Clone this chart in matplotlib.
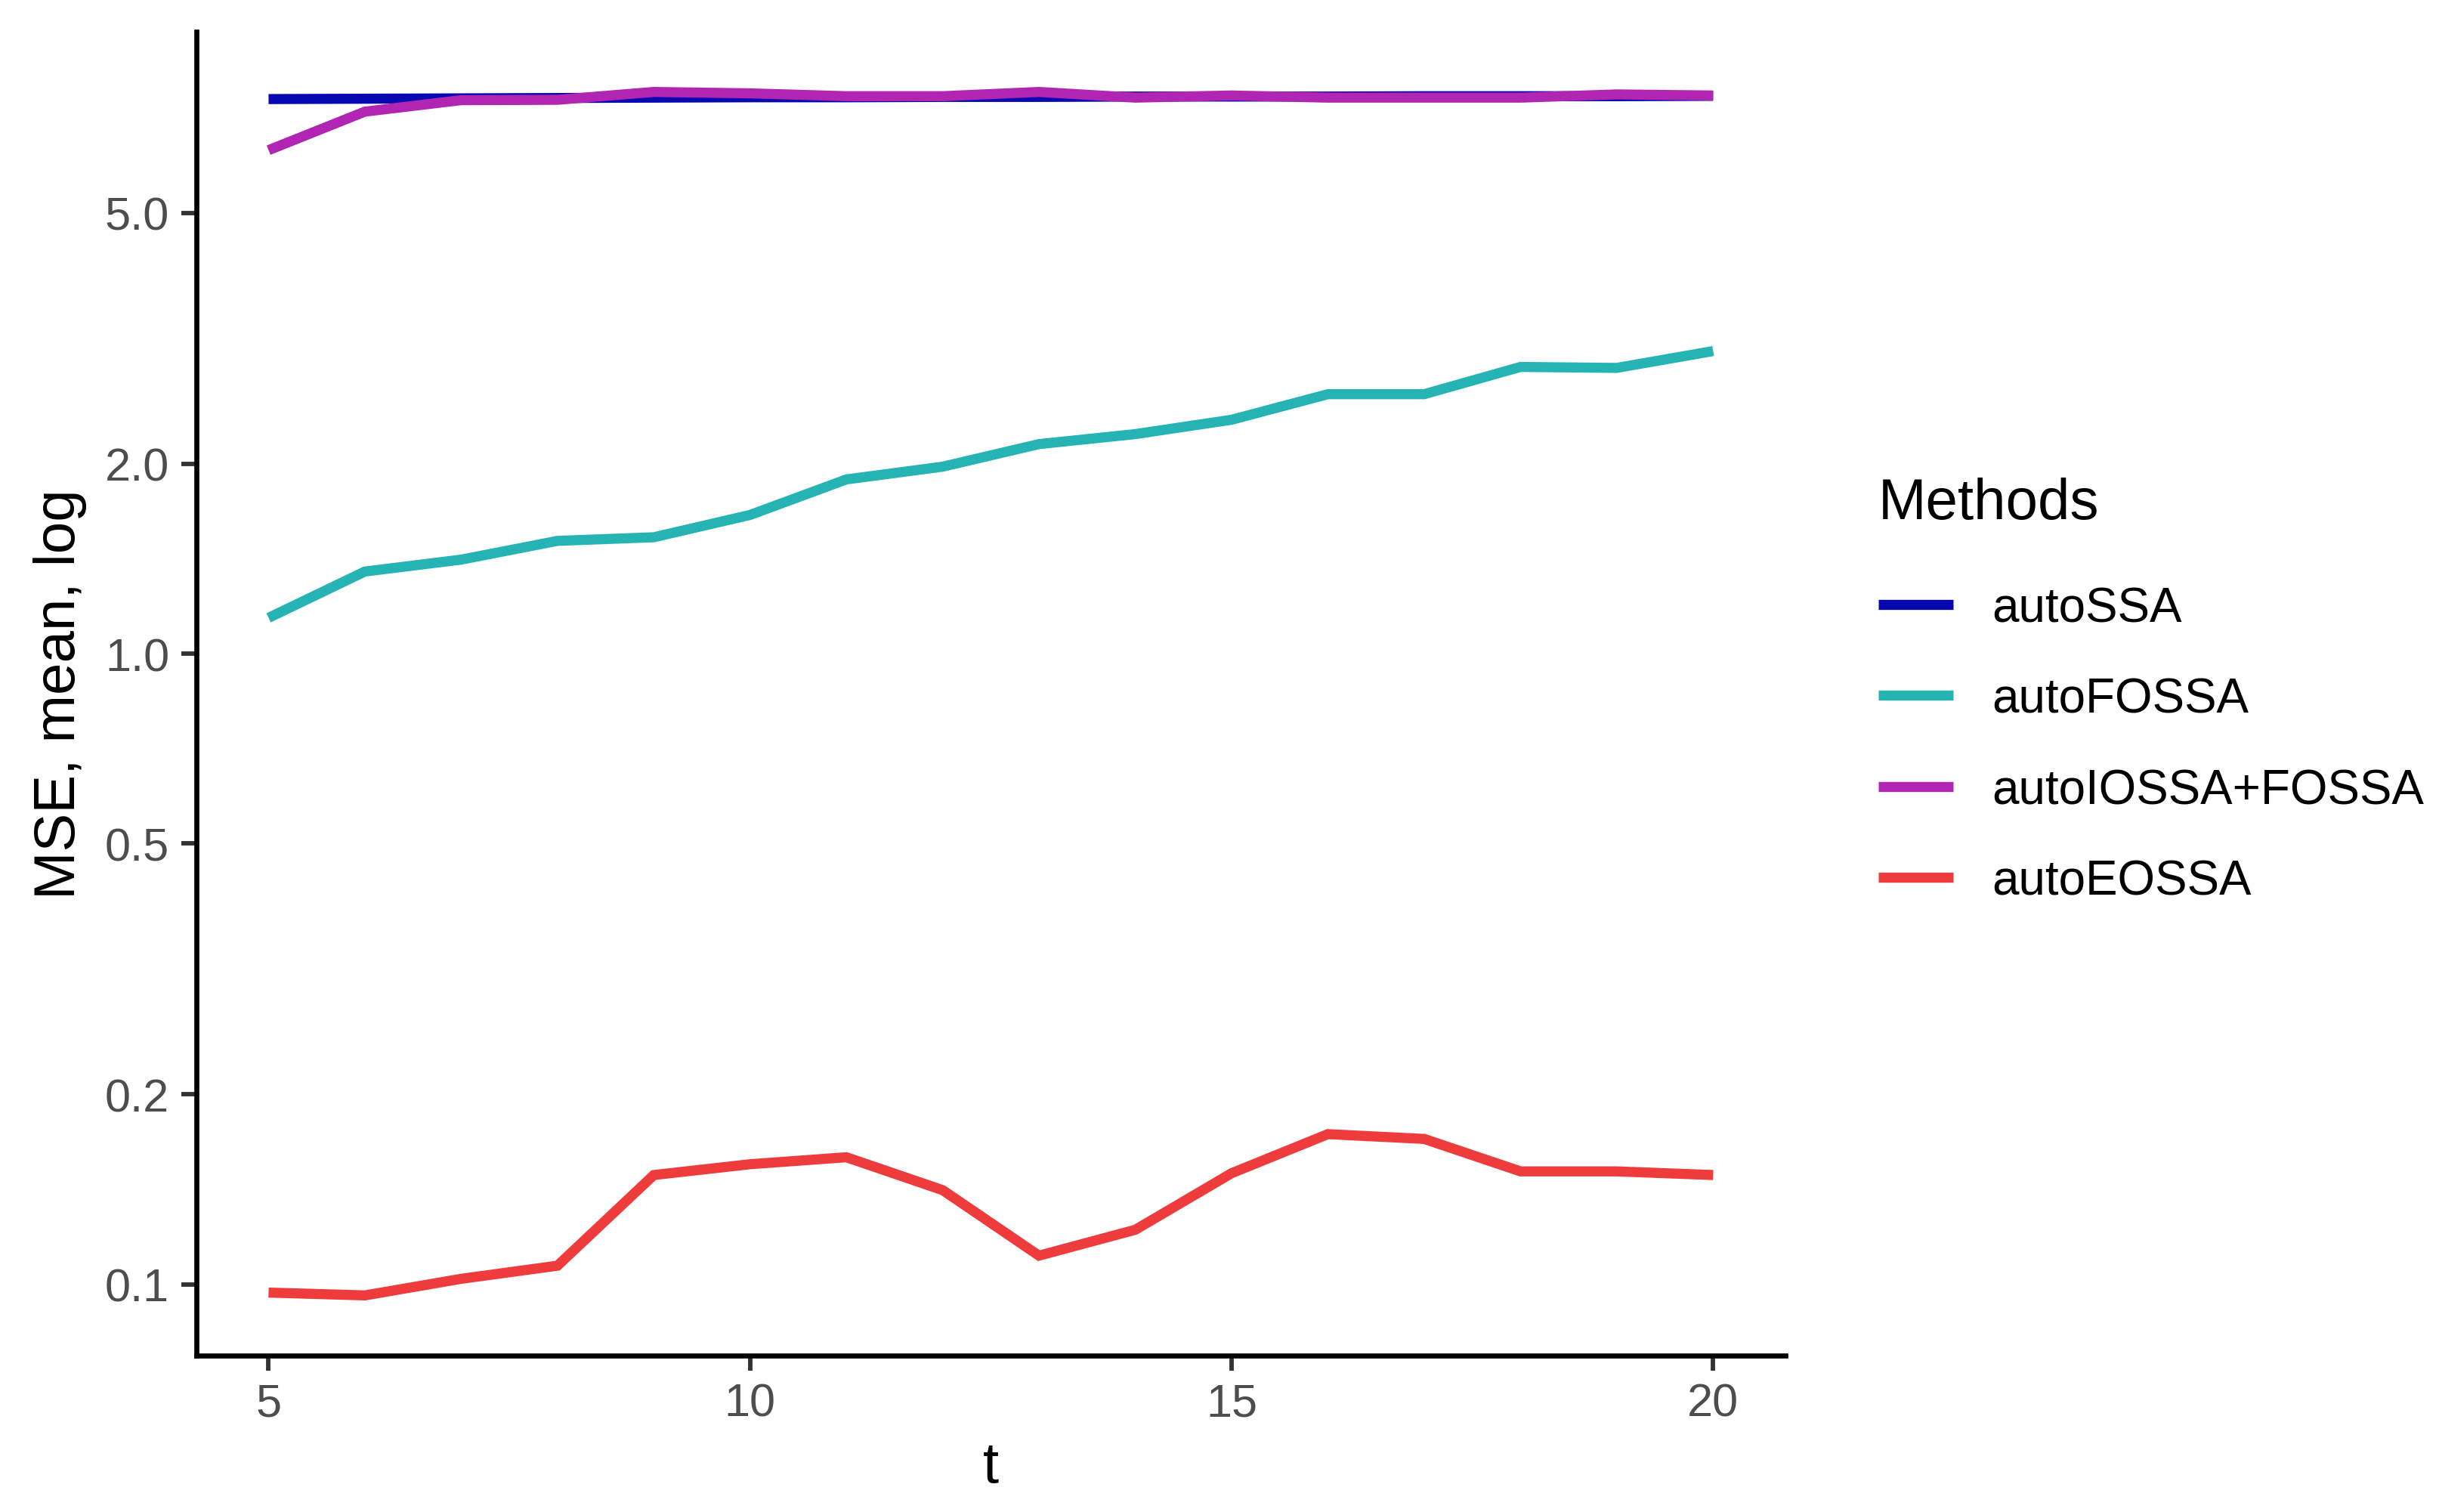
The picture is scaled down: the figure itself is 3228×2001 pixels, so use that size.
import numpy as np
import matplotlib
matplotlib.use("Agg")
import matplotlib.pyplot as plt
from matplotlib.ticker import FixedLocator, FixedFormatter, NullLocator

plt.rcParams['font.family'] = ['Liberation Sans', 'DejaVu Sans']

# datos
t = [5, 6, 7, 8, 9, 10, 11, 12, 13, 14, 15, 16, 17, 18, 19, 20]
auto_ssa = [7.58, 7.59, 7.60, 7.61, 7.62, 7.63, 7.63, 7.64, 7.64, 7.65, 7.65, 7.65, 7.66, 7.66, 7.66, 7.67]
auto_fossa = [1.14, 1.35, 1.41, 1.51, 1.53, 1.66, 1.89, 1.98, 2.15, 2.23, 2.35, 2.58, 2.58, 2.85, 2.84, 3.02]
auto_iossa_fossa = [6.29, 7.24, 7.55, 7.56, 7.78, 7.74, 7.66, 7.66, 7.78, 7.62, 7.68, 7.62, 7.62, 7.62, 7.71, 7.68]
auto_eossa = [0.097, 0.096, 0.102, 0.107, 0.149, 0.155, 0.159, 0.141, 0.111, 0.122, 0.150, 0.173, 0.170, 0.151, 0.151, 0.149]

metodos = ['autoSSA', 'autoFOSSA', 'autoIOSSA+FOSSA', 'autoEOSSA']
series = [auto_ssa, auto_fossa, auto_iossa_fossa, auto_eossa]
colores = ['#0808B0', '#26B3B3', '#B026B3', '#EE3B3B']

y_ticks = [0.1, 0.2, 0.5, 1.0, 2.0, 5.0]
y_labels = ['0.1', '0.2', '0.5', '1.0', '2.0', '5.0']
x_ticks = [5, 10, 15, 20]

fig = plt.figure(figsize=(3228 / 300, 2002 / 300), dpi=300)
ax = fig.add_axes([0.0805, 0.1034, 0.732 - 0.0805, 0.9785 - 0.1034])

for nombre, valores, color in zip(metodos, series, colores):
    ax.plot(t, valores, color=color, lw=3.2, label=nombre, solid_capstyle='butt', solid_joinstyle='miter')

# escala log con expansion del 5% como ggplot
ax.set_yscale('log')
todos = np.log10(np.concatenate([np.array(s) for s in series]))
lo, hi = todos.min(), todos.max()
pad = 0.05 * (hi - lo)
ax.set_ylim(10 ** (lo - pad), 10 ** (hi + pad))
ax.set_xlim(min(t) - 0.05 * (max(t) - min(t)), max(t) + 0.05 * (max(t) - min(t)))

ax.yaxis.set_major_locator(FixedLocator(y_ticks))
ax.yaxis.set_major_formatter(FixedFormatter(y_labels))
ax.yaxis.set_minor_locator(NullLocator())
ax.set_xticks(x_ticks)

for lado in ['top', 'right']:
    ax.spines[lado].set_visible(False)
for lado in ['left', 'bottom']:
    ax.spines[lado].set_linewidth(1.6)
    ax.spines[lado].set_color('black')

ax.tick_params(axis='both', which='major', length=4.8, width=1.4, color='#333333',
               labelsize=14.7, labelcolor='#4D4D4D', pad=3.8)

ax.set_xlabel('t', fontsize=18.3, color='black', labelpad=4.6)
ax.set_ylabel('MSE, mean, log', fontsize=18.3, color='black', labelpad=5.6)

leg = ax.legend(title='Methods', loc='upper left', bbox_to_anchor=(2486 / 3228, 1 - 632 / 2002),
                bbox_transform=fig.transFigure, frameon=False, fontsize=15.3, title_fontsize=18.3,
                handlelength=1.56, handletextpad=0.8, labelspacing=0.95, borderpad=0,
                borderaxespad=0)
leg._legend_box.align = 'left'
# separacion extra entre el titulo y las entradas
leg._legend_box.sep = 15.3 * 0.95 + 3

fig.savefig('out.png', dpi=300, facecolor='white')
